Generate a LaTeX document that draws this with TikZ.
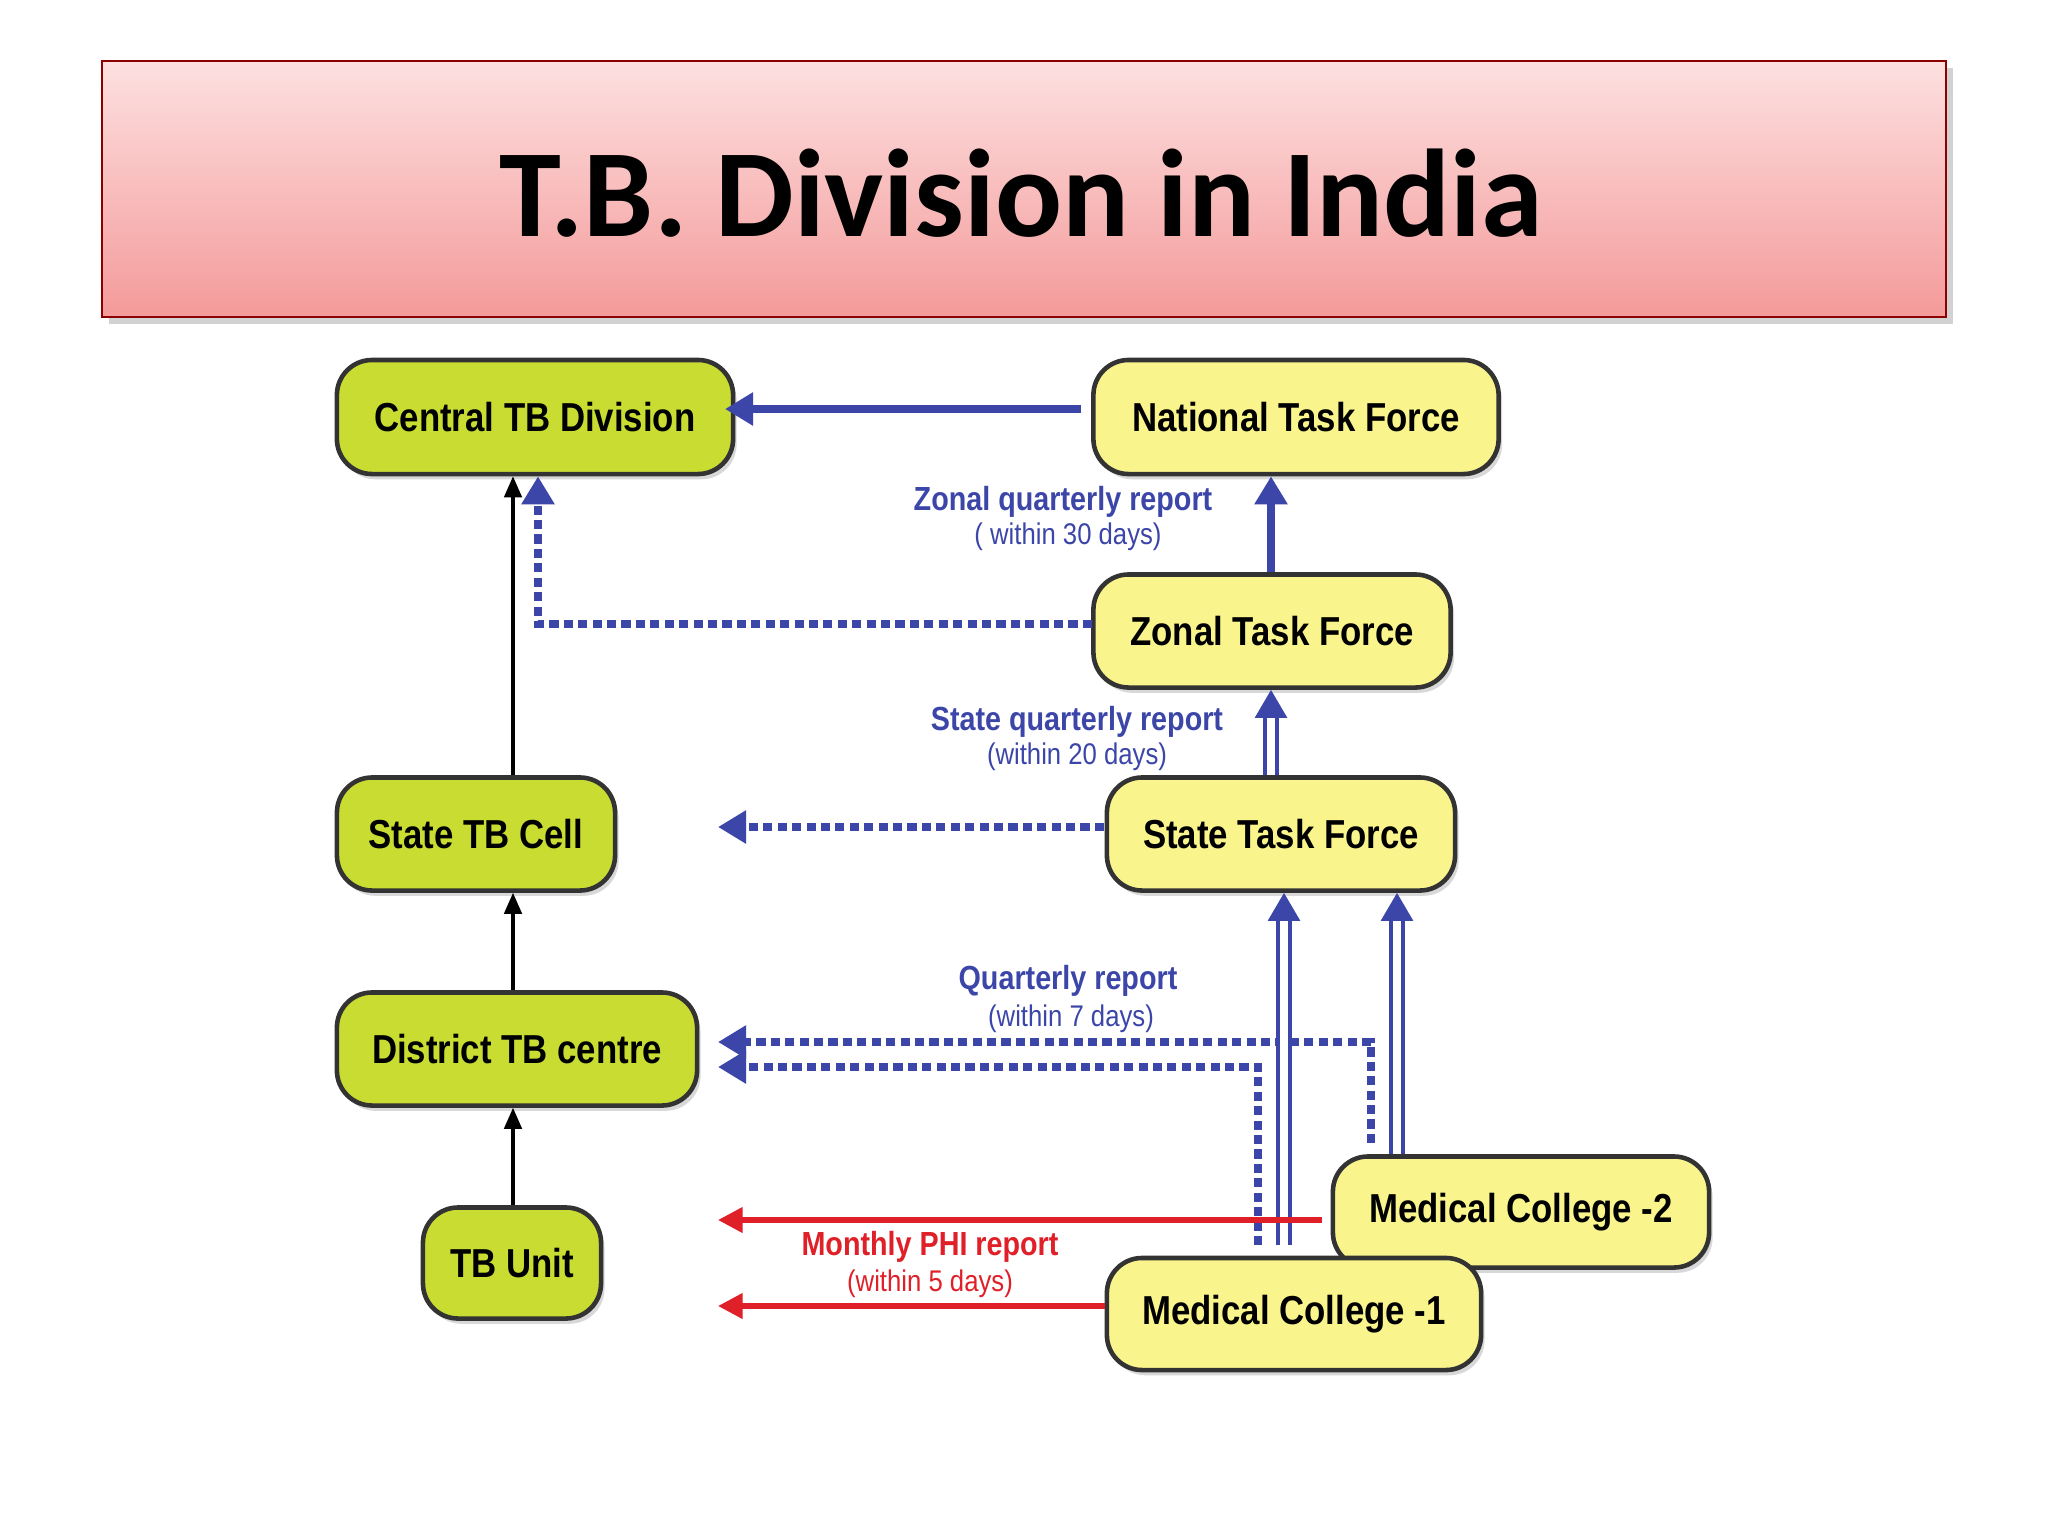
\documentclass[tikz,border=0pt]{standalone}
\usepackage{fontspec}
\setmainfont{Liberation Sans}
\newfontfamily\titlefont{Carlito}
\newfontfamily\nodefont[FakeStretch=0.86]{Liberation Sans}
\usetikzlibrary{arrows.meta,shadows}
\definecolor{bx}{HTML}{C8DC32}
\definecolor{yb}{HTML}{F9F48C}
\definecolor{bl}{HTML}{3C46A8}
\definecolor{rd}{HTML}{E02028}
\definecolor{bannertop}{HTML}{FDE0E0}
\definecolor{bannerbot}{HTML}{F49A9A}
\begin{document}
\begin{tikzpicture}[x=0.01cm,y=-0.01cm,
 box/.style={draw=black!80,line width=1.3pt,rounded corners=10pt,inner sep=0pt,
   font=\nodefont\bfseries\fontsize{11.5}{13}\selectfont,drop shadow={shadow xshift=1pt,shadow yshift=-1.5pt,opacity=.3}},
 gbox/.style={box,fill=bx},
 ybox/.style={box,fill=yb},
 blab/.style={text=bl,font=\nodefont\bfseries\fontsize{9.5}{11}\selectfont},
 blab2/.style={text=bl,font=\nodefont\fontsize{8.5}{10}\selectfont},
 thickb/.style={draw=bl,line width=2pt,-{Triangle[width=9pt,length=8pt]}},
 dbl/.style={draw=bl,line width=1.2pt,double=white,double distance=2.2pt,-{Triangle[width=9pt,length=8pt]}},
 dsh/.style={draw=bl,line width=2.4pt,dash pattern=on 2.6pt off 1.5pt,-{Triangle[width=9pt,length=8pt]}},
 blk/.style={draw=black,line width=0.9pt,-{Triangle[width=5pt,length=6pt]}},
 redarr/.style={draw=rd,line width=1.5pt,-{Triangle[width=7pt,length=7pt]}}]
\useasboundingbox (0,0) rectangle (2048,1536);
\fill[white] (0,0) rectangle (2048,1536);
% title banner
\shade[top color=bannertop,bottom color=bannerbot,draw=red!55!black,line width=0.6pt,
  drop shadow={shadow xshift=2pt,shadow yshift=-2pt,opacity=.35}] (102,61) rectangle (1946,317);
\node[font=\titlefont\bfseries\fontsize{35.5}{42}\selectfont] (title) at (1021,193) {T.B. Division in India};
% nodes
\node[gbox,minimum width=3.96cm,minimum height=1.14cm] (ctd) at (535,417) {Central TB Division};
\node[ybox,minimum width=4.05cm,minimum height=1.14cm] (ntf) at (1296,417) {National Task Force};
\node[ybox,minimum width=3.57cm,minimum height=1.13cm] (ztf) at (1272,631) {Zonal Task Force};
\node[gbox,minimum width=2.78cm,minimum height=1.13cm] (stc) at (476,834) {State TB Cell};
\node[ybox,minimum width=3.48cm,minimum height=1.13cm] (stf) at (1281,834) {State Task Force};
\node[gbox,minimum width=3.60cm,minimum height=1.13cm] (dtc) at (517,1049) {District TB centre};
\node[gbox,minimum width=1.78cm,minimum height=1.11cm] (tbu) at (512,1263) {TB Unit};
\node[ybox,minimum width=3.76cm,minimum height=1.11cm] (mc2) at (1521,1212) {Medical College -2};
\node[ybox,minimum width=3.74cm,minimum height=1.12cm] (mc1) at (1294,1314) {Medical College -1};
% coordinates
\coordinate (ntfw) at (1081,409);
\coordinate (ctde) at (725,409);
\coordinate (zw) at (1092,624);
\coordinate (zc) at (538,624);
\coordinate (stfw) at (1104,827);
\coordinate (stct) at (718,827);
\coordinate (m1d) at (1258,1245);
\coordinate (m1c) at (1258,1067);
\coordinate (m2d) at (1371,1143);
\coordinate (m2c) at (1371,1042);
\coordinate (da) at (718,1042);
\coordinate (db) at (718,1067);
\coordinate (r2) at (1322,1220);
\coordinate (r2e) at (718,1220);
\coordinate (r1e) at (718,1306);
% connectors
\draw[thickb] (ntfw) -- (ctde);
\draw[thickb] (ztf.north -| 1271,0) -- (ntf.south -| 1271,0);
\draw[dbl] (stf.north -| 1271,0) -- (ztf.south -| 1271,0);
\draw[dsh] (zw) -- (zc) -- (ctd.south -| 538,0);
\draw[blk] (stc.north -| 513,0) -- (ctd.south -| 513,0);
\draw[dsh] (stfw) -- (stct);
\draw[blk] (dtc.north -| 513,0) -- (stc.south -| 513,0);
\draw[blk] (tbu.north -| 513,0) -- (dtc.south -| 513,0);
\draw[dsh] (m2d) -- (m2c) -- (da);
\draw[dsh] (m1d) -- (m1c) -- (db);
\draw[dbl] (1284,1245) -- (stf.south -| 1284,0);
\draw[dbl] (mc2.north -| 1397,0) -- (stf.south -| 1397,0);
\draw[redarr] (r2) -- (r2e);
\draw[redarr] (mc1.west |- r1e) -- (r1e);
% labels
\node[blab] (l1) at (1063,502) {Zonal quarterly report};
\node[blab2] (l1b) at (1068,537) {( within 30 days)};
\node[blab] (l2) at (1077,722) {State quarterly report};
\node[blab2] (l2b) at (1077,757) {(within 20 days)};
\node[blab] (l3) at (1068,981) {Quarterly report};
\node[blab2] (l3b) at (1071,1019) {(within 7 days)};
\node[blab,text=rd] (l4) at (930,1247) {Monthly PHI report};
\node[blab2,text=rd] (l4b) at (930,1284) {(within 5 days)};
\end{tikzpicture}
\end{document}
